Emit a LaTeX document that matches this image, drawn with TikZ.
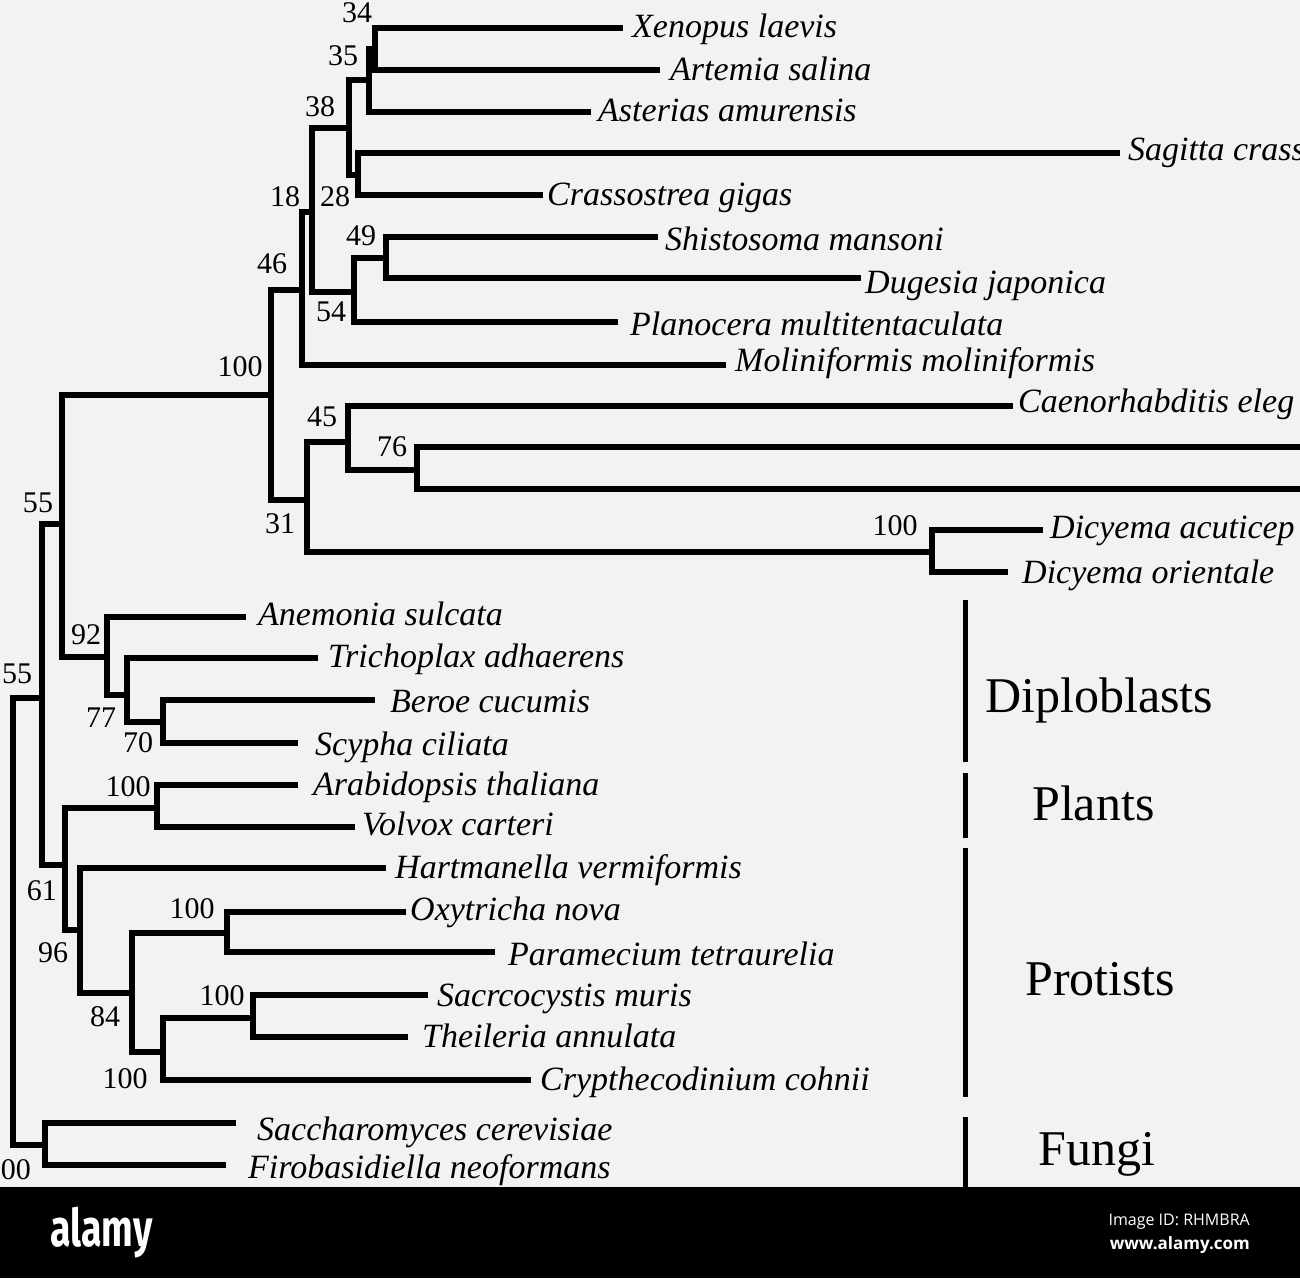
\documentclass[tikz,border=0pt]{standalone}
\usepackage{fontspec}
\setmainfont{Liberation Serif}
\newfontfamily\wmsans{Open Sans}
\newfontfamily\wmlogo{Fira Sans}
\definecolor{paper}{RGB}{243,242,240}
\begin{document}
\begin{tikzpicture}[x=1pt,y=-1pt,
  br/.style={line width=6pt, line cap=rect, line join=miter, draw=black},
  sp/.style={anchor=base west, inner sep=0pt, font=\fontsize{34}{40}\selectfont\itshape},
  bs/.style={anchor=center, inner sep=0pt, font=\fontsize{30}{36}\selectfont},
  grp/.style={anchor=base west, inner sep=0pt, font=\fontsize{50}{60}\selectfont},
  grpbar/.style={line width=5pt, draw=black}]
\useasboundingbox (0,0) rectangle (1300,1278);
\clip (0,0) rectangle (1300,1278);
\fill[paper] (0,0) rectangle (1300,1278);

% ---------- internal nodes ----------
\coordinate (n34) at (375,49);
\coordinate (n35) at (369,80);
\coordinate (n28) at (358,175);
\coordinate (n38) at (349,128);
\coordinate (n49) at (386,258);
\coordinate (n54) at (354,292);
\coordinate (n18) at (312,212);
\coordinate (n46) at (302,290);
\coordinate (n76) at (417,470);
\coordinate (n45) at (348,442);
\coordinate (ndic) at (932,552);
\coordinate (n31) at (307,500);
\coordinate (n100a) at (271,395);
\coordinate (n70) at (163,722);
\coordinate (n77) at (127,695);
\coordinate (n92) at (107,657);
\coordinate (n55a) at (62,524);
\coordinate (n100p) at (157,808);
\coordinate (n100c) at (227,933);
\coordinate (n100s) at (253,1018);
\coordinate (n100d) at (163,1052);
\coordinate (n84) at (132,993);
\coordinate (n96) at (80,930);
\coordinate (n61) at (65,865);
\coordinate (n55b) at (42,698);
\coordinate (nfun) at (45,1145);
\coordinate (root) at (13,921);

% ---------- leaf ends and labels ----------
\coordinate (e-xen) at (620,28);  \node[sp] (xen) at (632,37) {Xenopus laevis};
\coordinate (e-art) at (657,70);  \node[sp] (art) at (670,80) {Artemia salina};
\coordinate (e-ast) at (588,112); \node[sp] (ast) at (598,121) {Asterias amurensis};
\coordinate (e-sag) at (1117,153);\node[sp] (sag) at (1128,160) {Sagitta crass};
\coordinate (e-cra) at (540,195); \node[sp] (cra) at (547,205) {Crassostrea gigas};
\coordinate (e-shi) at (655,237); \node[sp] (shi) at (665,250) {Shistosoma mansoni};
\coordinate (e-dug) at (858,278); \node[sp] (dug) at (865,293) {Dugesia japonica};
\coordinate (e-pla) at (615,322); \node[sp] (pla) at (630,335) {Planocera multitentaculata};
\coordinate (e-mol) at (723,365); \node[sp] (mol) at (735,371) {Moliniformis moliniformis};
\coordinate (e-cae) at (1010,406);\node[sp] (cae) at (1018,412) {Caenorhabditis eleg};
\coordinate (e-u1) at (1310,447);
\coordinate (e-u2) at (1310,489);
\coordinate (e-dac) at (1040,530);\node[sp] (dac) at (1050,538) {Dicyema acuticep};
\coordinate (e-dor) at (1005,572);\node[sp] (dor) at (1022,583) {Dicyema orientale};
\coordinate (e-ane) at (243,617); \node[sp] (ane) at (258,625) {Anemonia sulcata};
\coordinate (e-tri) at (315,658); \node[sp] (tri) at (328,667) {Trichoplax adhaerens};
\coordinate (e-ber) at (372,700); \node[sp] (ber) at (390,712) {Beroe cucumis};
\coordinate (e-scy) at (295,743); \node[sp] (scy) at (315,755) {Scypha ciliata};
\coordinate (e-ara) at (295,785); \node[sp] (ara) at (313,795) {Arabidopsis thaliana};
\coordinate (e-vol) at (352,827); \node[sp] (vol) at (362,835) {Volvox carteri};
\coordinate (e-har) at (383,868); \node[sp] (har) at (395,878) {Hartmanella vermiformis};
\coordinate (e-oxy) at (403,912); \node[sp] (oxy) at (410,920) {Oxytricha nova};
\coordinate (e-par) at (492,952); \node[sp] (par) at (508,965) {Paramecium tetraurelia};
\coordinate (e-sac) at (425,995); \node[sp] (sac) at (437,1006) {Sacrcocystis muris};
\coordinate (e-the) at (405,1037);\node[sp] (the) at (422,1047) {Theileria annulata};
\coordinate (e-cry) at (528,1080);\node[sp] (cry) at (540,1090) {Crypthecodinium cohnii};
\coordinate (e-sce) at (233,1123);\node[sp] (sce) at (257,1140) {Saccharomyces cerevisiae};
\coordinate (e-fir) at (223,1165);\node[sp] (fir) at (248,1178) {Firobasidiella neoformans};

% ---------- branches ----------
\draw[br] (n34) |- (e-xen);  \draw[br] (n34) |- (e-art);
\draw[br] (n35) |- (n34);    \draw[br] (n35) |- (e-ast);
\draw[br] (n28) |- (e-sag);  \draw[br] (n28) |- (e-cra);
\draw[br] (n38) |- (n35);    \draw[br] (n38) |- (n28);
\draw[br] (n49) |- (e-shi);  \draw[br] (n49) |- (e-dug);
\draw[br] (n54) |- (n49);    \draw[br] (n54) |- (e-pla);
\draw[br] (n18) |- (n38);    \draw[br] (n18) |- (n54);
\draw[br] (n46) |- (n18);    \draw[br] (n46) |- (e-mol);
\draw[br] (n76) |- (e-u1);   \draw[br] (n76) |- (e-u2);
\draw[br] (n45) |- (e-cae);  \draw[br] (n45) |- (n76);
\draw[br] (ndic) |- (e-dac); \draw[br] (ndic) |- (e-dor);
\draw[br] (n31) |- (n45);    \draw[br] (n31) |- (ndic);
\draw[br] (n100a) |- (n46);  \draw[br] (n100a) |- (n31);
\draw[br] (n70) |- (e-ber);  \draw[br] (n70) |- (e-scy);
\draw[br] (n77) |- (e-tri);  \draw[br] (n77) |- (n70);
\draw[br] (n92) |- (e-ane);  \draw[br] (n92) |- (n77);
\draw[br] (n55a) |- (n100a); \draw[br] (n55a) |- (n92);
\draw[br] (n100p) |- (e-ara);\draw[br] (n100p) |- (e-vol);
\draw[br] (n100c) |- (e-oxy);\draw[br] (n100c) |- (e-par);
\draw[br] (n100s) |- (e-sac);\draw[br] (n100s) |- (e-the);
\draw[br] (n100d) |- (n100s);\draw[br] (n100d) |- (e-cry);
\draw[br] (n84) |- (n100c);  \draw[br] (n84) |- (n100d);
\draw[br] (n96) |- (e-har);  \draw[br] (n96) |- (n84);
\draw[br] (n61) |- (n100p);  \draw[br] (n61) |- (n96);
\draw[br] (n55b) |- (n55a);  \draw[br] (n55b) |- (n61);
\draw[br] (nfun) |- (e-sce); \draw[br] (nfun) |- (e-fir);
\draw[br] (root) |- (n55b);  \draw[br] (root) |- (nfun);

% ---------- bootstrap values ----------
\node[bs] (b34) at (357,13) {34};
\node[bs] (b35) at (343,56) {35};
\node[bs] (b38) at (320,107) {38};
\node[bs] (b18) at (285,197) {18};
\node[bs] (b28) at (335,197) {28};
\node[bs] (b49) at (361,236) {49};
\node[bs] (b46) at (272,264) {46};
\node[bs] (b54) at (331,312) {54};
\node[bs] (b100a) at (240,367) {100};
\node[bs] (b55a) at (38,503) {55};
\node[bs] (b45) at (322,417) {45};
\node[bs] (b76) at (392,447) {76};
\node[bs] (b31) at (280,524) {31};
\node[bs] (bdic) at (895,526) {100};
\node[bs] (b92) at (86,635) {92};
\node[bs] (b55b) at (17,674) {55};
\node[bs] (b77) at (101,718) {77};
\node[bs] (b70) at (138,743) {70};
\node[bs] (b100p) at (128,787) {100};
\node[bs] (b61) at (42,891) {61};
\node[bs] (b100c) at (192,909) {100};
\node[bs] (b96) at (53,953) {96};
\node[bs] (b84) at (105,1017) {84};
\node[bs] (b100s) at (222,996) {100};
\node[bs] (b100d) at (125,1079) {100};
\node[bs] (broot) at (16,1170) {00};

% ---------- groups ----------
\draw[grpbar] (965,600) -- (965,762);
\draw[grpbar] (965,773) -- (965,838);
\draw[grpbar] (965,848) -- (965,1097);
\draw[grpbar] (965,1117) -- (965,1190);
\node[grp] (gdip) at (985,712) {Diploblasts};
\node[grp] (gpla) at (1032,820) {Plants};
\node[grp] (gpro) at (1025,995) {Protists};
\node[grp] (gfun) at (1038,1165) {Fungi};

% ---------- bottom band ----------
\fill[black] (0,1187) rectangle (1300,1278);
\node[anchor=base west, inner sep=0pt, text=white, font=\wmlogo\bfseries\fontsize{52}{52}\selectfont] (logo) at (50,1246) {\scalebox{0.72}[1]{alamy}};
\node[anchor=base east, inner sep=0pt, text=white, font=\wmsans\fontsize{16}{20}\selectfont] (imgid) at (1250,1225) {Image ID: RHMBRA};
\node[anchor=base east, inner sep=0pt, text=white, font=\wmsans\bfseries\fontsize{17}{20}\selectfont] (url) at (1250,1249) {www.alamy.com};
\end{tikzpicture}
\end{document}
